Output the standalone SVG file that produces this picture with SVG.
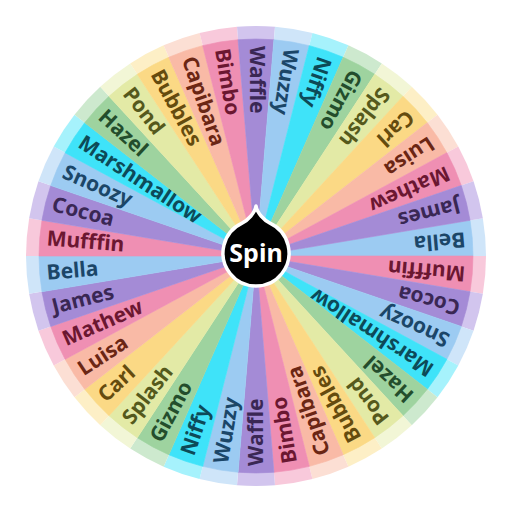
<svg xmlns="http://www.w3.org/2000/svg" xmlns:xlink="http://www.w3.org/1999/xlink" width="512" height="512" viewBox="0 0 512 512">
<style>
.t{font-family:"Noto Sans","DejaVu Sans",sans-serif;font-weight:700;font-size:21px}
.P{fill:#a48bd6;stroke:#a48bd6;stroke-width:0.6}
.LB{fill:#9ccbf2;stroke:#9ccbf2;stroke-width:0.6}
.C{fill:#3fe3f9;stroke:#3fe3f9;stroke-width:0.6}
.G{fill:#9ed39f;stroke:#9ed39f;stroke-width:0.6}
.YG{fill:#e3eaa6;stroke:#e3eaa6;stroke-width:0.6}
.Y{fill:#fbd985;stroke:#fbd985;stroke-width:0.6}
.Pe{fill:#f9baa6;stroke:#f9baa6;stroke-width:0.6}
.Pk{fill:#ef8fb3;stroke:#ef8fb3;stroke-width:0.6}
.rP{fill:#d2c5ee}.rLB{fill:#cfe5f9}.rC{fill:#a6f2fc}.rG{fill:#cde9ce}
.rYG{fill:#f2f6d6}.rY{fill:#fdefc6}.rPe{fill:#fcdfd4}.rPk{fill:#f8c9db}
.tP{fill:#3a2754}.tLB{fill:#1b4668}.tC{fill:#0d4a58}.tG{fill:#234d2c}
.tYG{fill:#55591c}.tY{fill:#654b0e}.tPe{fill:#6b2614}.tPk{fill:#6b1731}
</style>
<defs>
<path id="rim" d="M256 256 L486 256 A230 230 0 0 1 482.863 293.857 Z"/>
<path id="w" d="M256 256 L473 256 A217 217 0 0 1 470.04 291.717 Z"/>
</defs>
<g id="wheel">
<g id="seg0" transform="rotate(-9.474 256 256)"><use href="#rim" class="rLB"/><use href="#w" class="LB"/><text class="t tLB" transform="rotate(184.737 256 256)" x="46" y="262.5">Bella</text></g>
<g id="seg1" transform="rotate(0 256 256)"><use href="#rim" class="rPk"/><use href="#w" class="Pk"/><text class="t tPk" transform="rotate(184.737 256 256)" x="46" y="262.5">Mufffin</text></g>
<g id="seg2" transform="rotate(9.474 256 256)"><use href="#rim" class="rP"/><use href="#w" class="P"/><text class="t tP" transform="rotate(184.737 256 256)" x="46" y="262.5">Cocoa</text></g>
<g id="seg3" transform="rotate(18.947 256 256)"><use href="#rim" class="rLB"/><use href="#w" class="LB"/><text class="t tLB" transform="rotate(184.737 256 256)" x="46" y="262.5">Snoozy</text></g>
<g id="seg4" transform="rotate(28.421 256 256)"><use href="#rim" class="rC"/><use href="#w" class="C"/><text class="t tC" transform="rotate(184.737 256 256)" x="46" y="262.5">Marshmallow</text></g>
<g id="seg5" transform="rotate(37.895 256 256)"><use href="#rim" class="rG"/><use href="#w" class="G"/><text class="t tG" transform="rotate(184.737 256 256)" x="46" y="262.5">Hazel</text></g>
<g id="seg6" transform="rotate(47.368 256 256)"><use href="#rim" class="rYG"/><use href="#w" class="YG"/><text class="t tYG" transform="rotate(184.737 256 256)" x="46" y="262.5">Pond</text></g>
<g id="seg7" transform="rotate(56.842 256 256)"><use href="#rim" class="rY"/><use href="#w" class="Y"/><text class="t tY" transform="rotate(184.737 256 256)" x="46" y="262.5">Bubbles</text></g>
<g id="seg8" transform="rotate(66.316 256 256)"><use href="#rim" class="rPe"/><use href="#w" class="Pe"/><text class="t tPe" transform="rotate(184.737 256 256)" x="46" y="262.5">Capibara</text></g>
<g id="seg9" transform="rotate(75.789 256 256)"><use href="#rim" class="rPk"/><use href="#w" class="Pk"/><text class="t tPk" transform="rotate(184.737 256 256)" x="46" y="262.5">Bimbo</text></g>
<g id="seg10" transform="rotate(85.263 256 256)"><use href="#rim" class="rP"/><use href="#w" class="P"/><text class="t tP" transform="rotate(184.737 256 256)" x="46" y="262.5">Waffle</text></g>
<g id="seg11" transform="rotate(94.737 256 256)"><use href="#rim" class="rLB"/><use href="#w" class="LB"/><text class="t tLB" transform="rotate(184.737 256 256)" x="46" y="262.5">Wuzzy</text></g>
<g id="seg12" transform="rotate(104.211 256 256)"><use href="#rim" class="rC"/><use href="#w" class="C"/><text class="t tC" transform="rotate(184.737 256 256)" x="46" y="262.5">Niffy</text></g>
<g id="seg13" transform="rotate(113.684 256 256)"><use href="#rim" class="rG"/><use href="#w" class="G"/><text class="t tG" transform="rotate(184.737 256 256)" x="46" y="262.5">Gizmo</text></g>
<g id="seg14" transform="rotate(123.158 256 256)"><use href="#rim" class="rYG"/><use href="#w" class="YG"/><text class="t tYG" transform="rotate(184.737 256 256)" x="46" y="262.5">Splash</text></g>
<g id="seg15" transform="rotate(132.632 256 256)"><use href="#rim" class="rY"/><use href="#w" class="Y"/><text class="t tY" transform="rotate(184.737 256 256)" x="46" y="262.5">Carl</text></g>
<g id="seg16" transform="rotate(142.105 256 256)"><use href="#rim" class="rPe"/><use href="#w" class="Pe"/><text class="t tPe" transform="rotate(184.737 256 256)" x="46" y="262.5">Luisa</text></g>
<g id="seg17" transform="rotate(151.579 256 256)"><use href="#rim" class="rPk"/><use href="#w" class="Pk"/><text class="t tPk" transform="rotate(184.737 256 256)" x="46" y="262.5">Mathew</text></g>
<g id="seg18" transform="rotate(161.053 256 256)"><use href="#rim" class="rP"/><use href="#w" class="P"/><text class="t tP" transform="rotate(184.737 256 256)" x="46" y="262.5">James</text></g>
<g id="seg19" transform="rotate(170.526 256 256)"><use href="#rim" class="rLB"/><use href="#w" class="LB"/><text class="t tLB" transform="rotate(184.737 256 256)" x="46" y="262.5">Bella</text></g>
<g id="seg20" transform="rotate(180 256 256)"><use href="#rim" class="rPk"/><use href="#w" class="Pk"/><text class="t tPk" transform="rotate(184.737 256 256)" x="46" y="262.5">Mufffin</text></g>
<g id="seg21" transform="rotate(189.474 256 256)"><use href="#rim" class="rP"/><use href="#w" class="P"/><text class="t tP" transform="rotate(184.737 256 256)" x="46" y="262.5">Cocoa</text></g>
<g id="seg22" transform="rotate(198.947 256 256)"><use href="#rim" class="rLB"/><use href="#w" class="LB"/><text class="t tLB" transform="rotate(184.737 256 256)" x="46" y="262.5">Snoozy</text></g>
<g id="seg23" transform="rotate(208.421 256 256)"><use href="#rim" class="rC"/><use href="#w" class="C"/><text class="t tC" transform="rotate(184.737 256 256)" x="46" y="262.5">Marshmallow</text></g>
<g id="seg24" transform="rotate(217.895 256 256)"><use href="#rim" class="rG"/><use href="#w" class="G"/><text class="t tG" transform="rotate(184.737 256 256)" x="46" y="262.5">Hazel</text></g>
<g id="seg25" transform="rotate(227.368 256 256)"><use href="#rim" class="rYG"/><use href="#w" class="YG"/><text class="t tYG" transform="rotate(184.737 256 256)" x="46" y="262.5">Pond</text></g>
<g id="seg26" transform="rotate(236.842 256 256)"><use href="#rim" class="rY"/><use href="#w" class="Y"/><text class="t tY" transform="rotate(184.737 256 256)" x="46" y="262.5">Bubbles</text></g>
<g id="seg27" transform="rotate(246.316 256 256)"><use href="#rim" class="rPe"/><use href="#w" class="Pe"/><text class="t tPe" transform="rotate(184.737 256 256)" x="46" y="262.5">Capibara</text></g>
<g id="seg28" transform="rotate(255.789 256 256)"><use href="#rim" class="rPk"/><use href="#w" class="Pk"/><text class="t tPk" transform="rotate(184.737 256 256)" x="46" y="262.5">Bimbo</text></g>
<g id="seg29" transform="rotate(265.263 256 256)"><use href="#rim" class="rP"/><use href="#w" class="P"/><text class="t tP" transform="rotate(184.737 256 256)" x="46" y="262.5">Waffle</text></g>
<g id="seg30" transform="rotate(274.737 256 256)"><use href="#rim" class="rLB"/><use href="#w" class="LB"/><text class="t tLB" transform="rotate(184.737 256 256)" x="46" y="262.5">Wuzzy</text></g>
<g id="seg31" transform="rotate(284.211 256 256)"><use href="#rim" class="rC"/><use href="#w" class="C"/><text class="t tC" transform="rotate(184.737 256 256)" x="46" y="262.5">Niffy</text></g>
<g id="seg32" transform="rotate(293.684 256 256)"><use href="#rim" class="rG"/><use href="#w" class="G"/><text class="t tG" transform="rotate(184.737 256 256)" x="46" y="262.5">Gizmo</text></g>
<g id="seg33" transform="rotate(303.158 256 256)"><use href="#rim" class="rYG"/><use href="#w" class="YG"/><text class="t tYG" transform="rotate(184.737 256 256)" x="46" y="262.5">Splash</text></g>
<g id="seg34" transform="rotate(312.632 256 256)"><use href="#rim" class="rY"/><use href="#w" class="Y"/><text class="t tY" transform="rotate(184.737 256 256)" x="46" y="262.5">Carl</text></g>
<g id="seg35" transform="rotate(322.105 256 256)"><use href="#rim" class="rPe"/><use href="#w" class="Pe"/><text class="t tPe" transform="rotate(184.737 256 256)" x="46" y="262.5">Luisa</text></g>
<g id="seg36" transform="rotate(331.579 256 256)"><use href="#rim" class="rPk"/><use href="#w" class="Pk"/><text class="t tPk" transform="rotate(184.737 256 256)" x="46" y="262.5">Mathew</text></g>
<g id="seg37" transform="rotate(341.053 256 256)"><use href="#rim" class="rP"/><use href="#w" class="P"/><text class="t tP" transform="rotate(184.737 256 256)" x="46" y="262.5">James</text></g>
</g>
<g id="connectors"/>
<g id="spin">
<path d="M256 206 C257 213 264.5 220.6 269.95 223.1 A33 33 0 1 1 242.05 223.1 C247.5 220.6 255 213 256 206 Z" fill="#000" stroke="#fff" stroke-width="3.5" stroke-linejoin="round"/>
<text x="256" y="262" text-anchor="middle" font-family="'Noto Sans','DejaVu Sans',sans-serif" font-weight="700" font-size="25" fill="#fff">Spin</text>
</g>
</svg>
